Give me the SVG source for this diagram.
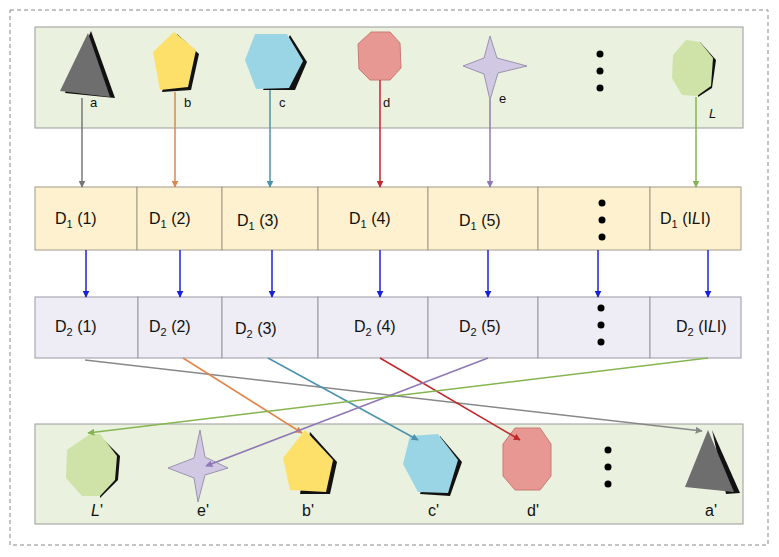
<svg xmlns="http://www.w3.org/2000/svg" width="779" height="557" viewBox="0 0 779 557">
<defs>
<style>
.t{font-family:"Liberation Sans",Arial,sans-serif;font-size:16px;fill:#111}
.s{font-family:"Liberation Sans",Arial,sans-serif;font-size:13px;fill:#111}
.panel{fill:#ebf1df;stroke:#999;stroke-width:1}
.c1{fill:#fdf1cf;stroke:#a09a8a;stroke-width:1}
.c2{fill:#eeecf4;stroke:#9a98a4;stroke-width:1}
.sh{fill:#111}
</style>
<marker id="m" viewBox="0 0 10 10" refX="9" refY="5" markerWidth="7" markerHeight="7" orient="auto" markerUnits="userSpaceOnUse"><path d="M0,0L10,5L0,10z" fill="context-stroke"/></marker>
</defs>
<rect x="0" y="0" width="779" height="557" fill="#fff"/>
<rect x="10" y="10" width="758" height="535" fill="#fff" stroke="#888" stroke-dasharray="4,3"/>
<g id="top-panel">
<rect class="panel" x="35" y="27" width="708" height="101"/>
</g>
<g id="bottom-panel">
<rect class="panel" x="35" y="424" width="708" height="100"/>
</g>
<g id="row1">
<rect class="c1" x="35" y="187" width="102" height="63"/><text class="t" x="55" y="224">D<tspan font-size="11" dy="4">1</tspan><tspan dy="-4"> (1)</tspan></text>
<rect class="c1" x="137" y="187" width="85" height="63"/><text class="t" x="149" y="224">D<tspan font-size="11" dy="4">1</tspan><tspan dy="-4"> (2)</tspan></text>
<rect class="c1" x="222" y="187" width="96" height="63"/><text class="t" x="237" y="226">D<tspan font-size="11" dy="4">1</tspan><tspan dy="-4"> (3)</tspan></text>
<rect class="c1" x="318" y="187" width="110" height="63"/><text class="t" x="349" y="224">D<tspan font-size="11" dy="4">1</tspan><tspan dy="-4"> (4)</tspan></text>
<rect class="c1" x="428" y="187" width="110" height="63"/><text class="t" x="459" y="226">D<tspan font-size="11" dy="4">1</tspan><tspan dy="-4"> (5)</tspan></text>
<rect class="c1" x="538" y="187" width="112" height="63"/>
<circle cx="602" cy="203" r="3.5"/><circle cx="602" cy="220" r="3.5"/><circle cx="602" cy="237" r="3.5"/>
<rect class="c1" x="650" y="187" width="91" height="63"/><text class="t" x="660" y="224">D<tspan font-size="11" dy="4">1</tspan><tspan dy="-4"> (I</tspan><tspan font-style="italic">L</tspan>I)</text>
</g>
<g id="row2">
<rect class="c2" x="35" y="297" width="103" height="61"/><text class="t" x="55" y="332">D<tspan font-size="11" dy="4">2</tspan><tspan dy="-4"> (1)</tspan></text>
<rect class="c2" x="138" y="297" width="84" height="61"/><text class="t" x="149" y="332">D<tspan font-size="11" dy="4">2</tspan><tspan dy="-4"> (2)</tspan></text>
<rect class="c2" x="222" y="297" width="96" height="61"/><text class="t" x="235" y="334">D<tspan font-size="11" dy="4">2</tspan><tspan dy="-4"> (3)</tspan></text>
<rect class="c2" x="318" y="297" width="110" height="61"/><text class="t" x="354" y="332">D<tspan font-size="11" dy="4">2</tspan><tspan dy="-4"> (4)</tspan></text>
<rect class="c2" x="428" y="297" width="110" height="61"/><text class="t" x="459" y="332">D<tspan font-size="11" dy="4">2</tspan><tspan dy="-4"> (5)</tspan></text>
<rect class="c2" x="538" y="297" width="112" height="61"/>
<circle cx="601" cy="308" r="3.5"/><circle cx="601" cy="325" r="3.5"/><circle cx="601" cy="342" r="3.5"/>
<rect class="c2" x="650" y="297" width="91" height="61"/><text class="t" x="676" y="332">D<tspan font-size="11" dy="4">2</tspan><tspan dy="-4"> (I</tspan><tspan font-style="italic">L</tspan>I)</text>
</g>
<g id="top-shapes">
<polygon class="sh" points="91,31 115,98 65,93"/><polygon points="88,33 110,97 60,91" fill="#6e6e6e"/><text class="s" x="90" y="107">a</text>
<polygon class="sh" points="177,34 199,54 191,90 162,92"/><polygon points="174,32 196,50 188,87 160,90 153,52" fill="#fde06a"/><text class="s" x="184" y="107">b</text>
<polygon class="sh" points="290,35 307,62 295,90 263,90"/><polygon points="255,34 287,34 303,61 289,88 256,89 245,60" fill="#9ad5e6"/><text class="s" x="279" y="107">c</text>
<polygon points="371,32 390,32 400,43 401,68 390,80 370,80 359,69 358,44" fill="#e89893" stroke="#c97a76"/><text class="s" x="383" y="107">d</text>
<polygon points="490,36 497,58 527,66 498,73 490,100 484,74 463,66 484,58" fill="#d1c8e4" stroke="#8a80a0" stroke-width="0.8"/><text class="s" x="499" y="103">e</text>
<circle cx="600" cy="54" r="3.5"/><circle cx="600" cy="71" r="3.5"/><circle cx="600" cy="88" r="3.5"/>
<polygon class="sh" points="700,42 716,60 712,88 698,97"/><polygon points="686,40 700,42 713,58 711,86 697,96 682,95 672,78 673,55" fill="#cfe2a8"/><text class="s" x="709" y="118" font-style="italic">L</text>
</g>
<g id="bottom-shapes">
<polygon class="sh" points="100,436 120,456 118,480 100,498"/><polygon points="90,434 100,434 117,456 115,480 100,496 82,496 66,478 67,450" fill="#cfe2a8"/><text class="t" x="91" y="516" font-style="italic">L<tspan font-style="normal">'</tspan></text>
<polygon points="200,430 205,457 228,468 205,475 198,502 194,478 168,468 194,458" fill="#d1c8e4" stroke="#8a80a0" stroke-width="0.8"/><text class="t" x="197" y="516">e'</text>
<polygon class="sh" points="310,432 337,462 330,494 300,494"/><polygon points="305,430 333,460 326,492 290,490 283,458" fill="#fde06a"/><text class="t" x="302" y="516">b'</text>
<polygon class="sh" points="440,436 462,462 450,496 420,494"/><polygon points="410,436 438,434 458,460 448,493 418,492 403,464" fill="#9ad5e6"/><text class="t" x="428" y="516">c'</text>
<polygon points="515,428 540,428 551,444 551,476 540,490 515,490 503,476 503,444" fill="#e89893" stroke="#c97a76"/><text class="t" x="527" y="516">d'</text>
<circle cx="608" cy="450" r="3.5"/><circle cx="608" cy="467" r="3.5"/><circle cx="608" cy="484" r="3.5"/>
<polygon class="sh" points="712,430 740,493 726,494"/><polygon points="708,430 734,492 685,487" fill="#6e6e6e"/><text class="t" x="705" y="516">a'</text>
</g>
<g id="connectors" fill="none" stroke-width="1.5" marker-end="url(#m)">
<line x1="82" y1="98" x2="82" y2="187" stroke="#777"/>
<line x1="175" y1="92" x2="175" y2="187" stroke="#e0864a"/>
<line x1="270" y1="90" x2="270" y2="187" stroke="#4a93ad"/>
<line x1="380" y1="80" x2="380" y2="187" stroke="#c0282a"/>
<line x1="490" y1="100" x2="490" y2="187" stroke="#8f78b4"/>
<line x1="696" y1="97" x2="696" y2="187" stroke="#85b550"/>
<g stroke="#1a22d8">
<line x1="86" y1="250" x2="86" y2="297"/>
<line x1="180" y1="250" x2="180" y2="297"/>
<line x1="272" y1="250" x2="272" y2="297"/>
<line x1="380" y1="250" x2="380" y2="297"/>
<line x1="488" y1="250" x2="488" y2="297"/>
<line x1="598" y1="250" x2="598" y2="297"/>
<line x1="708" y1="250" x2="708" y2="297"/>
</g>
<line x1="85" y1="360" x2="702" y2="431" stroke="#888"/>
<line x1="183" y1="358" x2="302" y2="433" stroke="#e0864a"/>
<line x1="268" y1="358" x2="418" y2="440" stroke="#4a93ad"/>
<line x1="380" y1="358" x2="520" y2="440" stroke="#c0282a"/>
<line x1="488" y1="358" x2="206" y2="466" stroke="#8f78b4"/>
<line x1="708" y1="358" x2="88" y2="433" stroke="#85b550"/>
</g>
</svg>
